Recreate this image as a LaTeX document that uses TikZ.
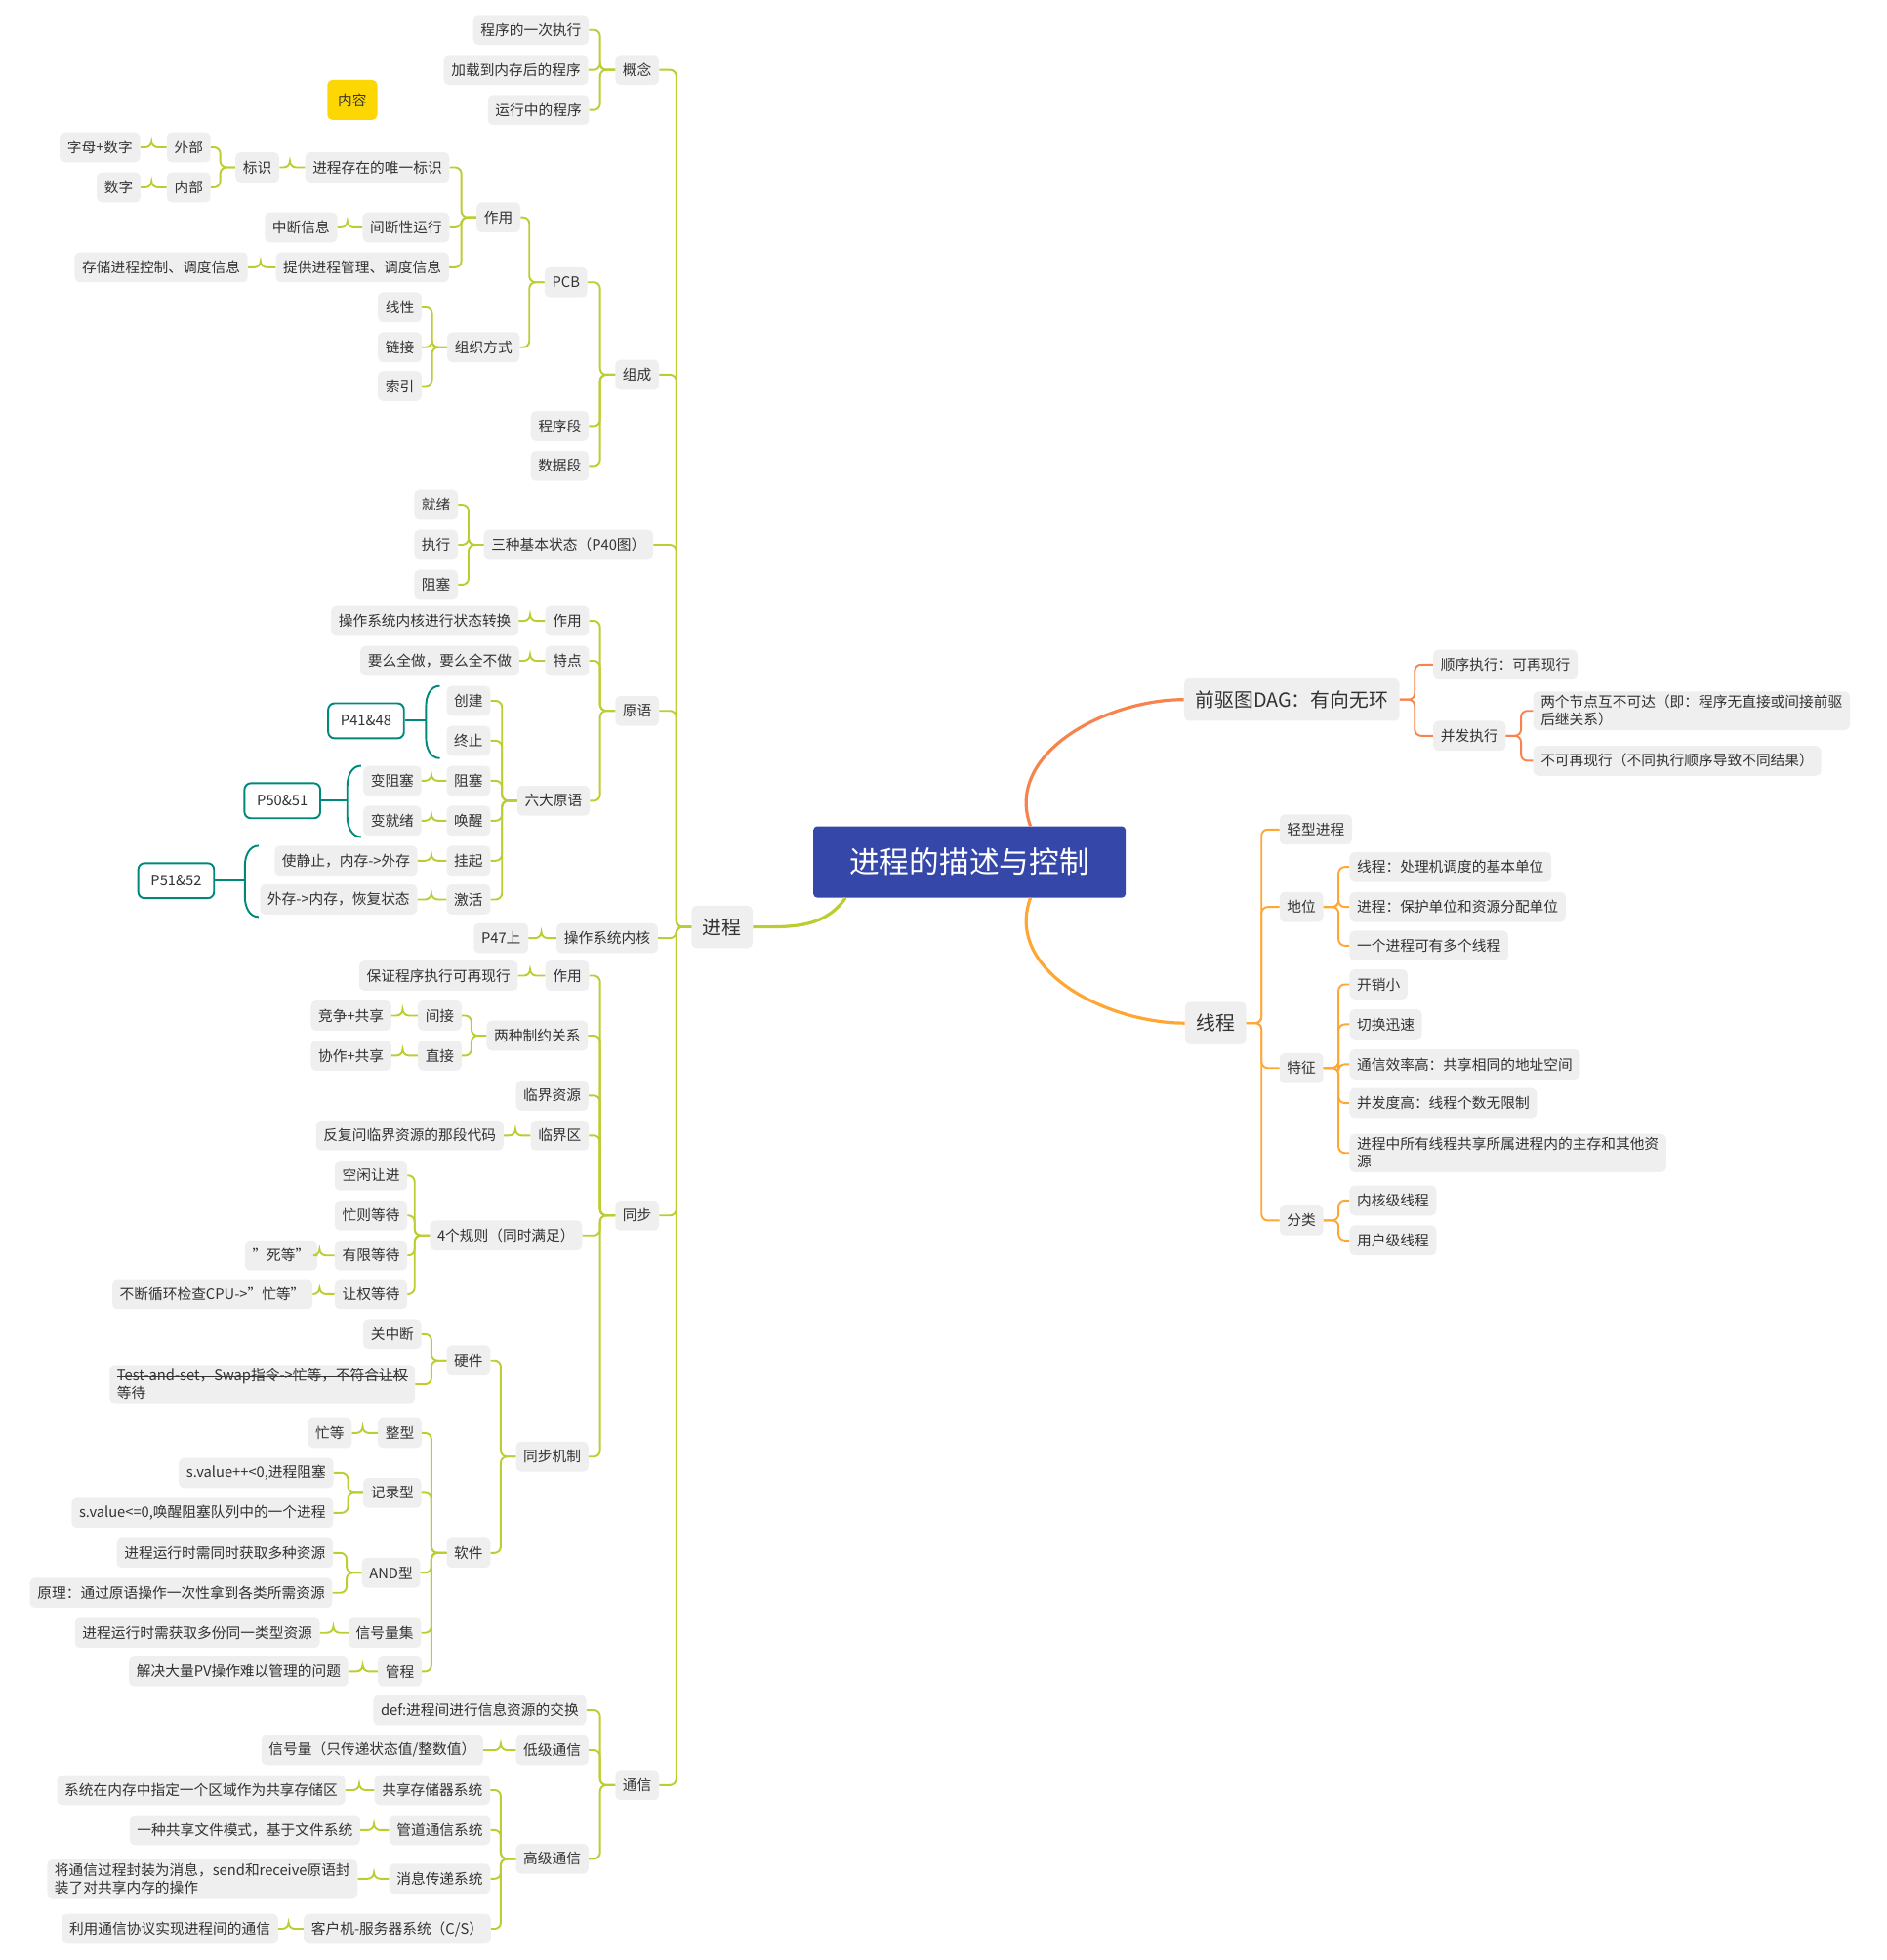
\documentclass[tikz,border=0pt]{standalone}
\usepackage{fontspec}
\setmainfont{Noto Sans CJK SC}
\begin{document}
\definecolor{gline}{HTML}{BCCD32}
\definecolor{oline}{HTML}{F7844F}
\definecolor{yline}{HTML}{FFA734}
\definecolor{nfill}{HTML}{EFEFEF}
\definecolor{ntext}{HTML}{333333}
\definecolor{tealc}{HTML}{00897B}
\definecolor{rootc}{HTML}{3547A8}
\tikzset{
 n/.style={fill=nfill,rounded corners=4,text=ntext,inner xsep=6pt,inner ysep=3pt,minimum height=24pt,font=\fontsize{11.5}{14}\selectfont},
 big/.style={n,font=\fontsize{15.5}{18}\selectfont,minimum height=34pt,inner xsep=9pt},
 gl/.style={draw=gline,line width=1.5pt,rounded corners=5pt},
 ol/.style={draw=oline,line width=1.5pt,rounded corners=5pt},
 yl/.style={draw=yline,line width=1.5pt,rounded corners=5pt},
 tl/.style={draw=tealc,line width=1.5pt},
 cb/.style={draw=tealc,line width=1.5pt,rounded corners=5,fill=white,text=ntext,inner xsep=10pt,minimum height=28pt,font=\fontsize{11.5}{14}\selectfont},
}
\newcommand\N[4]{\node[n] (#1) at (#2,#3) {#4};}
\newcommand\Lk[3][gl]{\draw[#1] (#2.west) -- ++(-12,0) |- (#3.east);}
\newcommand\Rk[3][ol]{\draw[#1] (#2.east) -- ++(12,0) |- (#3.west);}
\begin{tikzpicture}[x=1pt,y=-1pt]
\useasboundingbox (0,0) rectangle (1510,1569);
% root
\node[fill=rootc,text=white,rounded corners=3,minimum width=250pt,minimum height=57pt,font=\fontsize{24}{28}\selectfont] (root) at (776,690) {进程的描述与控制};
\node[fill=yellow!75!orange,rounded corners=4,minimum width=40pt,minimum height=32pt,font=\fontsize{11.5}{14}\selectfont,text=ntext] (nr) at (282,80) {内容};
\node[big] (jc) at (578,742) {进程};
\node[big] (qq) at (1034,560) {前驱图DAG：有向无环};
\node[big] (xc) at (973,819) {线程};
\draw[draw=gline,line width=2.5pt] ([xshift=26]root.south west) to[out=235,in=0] (jc.east);
\draw[draw=oline,line width=2.5pt] ([xshift=174]root.north west) to[out=110,in=180] (qq.west);
\draw[draw=yline,line width=2.5pt] ([xshift=174]root.south west) to[out=-110,in=180] (xc.west);
% 概念
\N{gn}{510}{56}{概念}
\N{gn1}{425}{24}{程序的一次执行}
\N{gn2}{413}{56}{加载到内存后的程序}
\N{gn3}{431}{88}{运行中的程序}
% 组成
\N{zc}{510}{300}{组成}
\N{pcb}{453}{226}{PCB}
\N{cxd}{448}{341}{程序段}
\N{sjd}{448}{373}{数据段}
\N{zy}{399}{174}{作用}
\N{zzfs}{387}{278}{组织方式}
\N{wybs}{302}{134}{进程存在的唯一标识}
\N{jdx}{325}{182}{间断性运行}
\N{tg}{290}{214}{提供进程管理、调度信息}
\N{bs}{206}{134}{标识}
\N{wb}{151}{118}{外部}
\N{nb}{151}{150}{内部}
\N{zm}{80}{118}{字母+数字}
\N{sz}{95}{150}{数字}
\N{zdxx}{241}{182}{中断信息}
\N{cc}{129}{214}{存储进程控制、调度信息}
\N{xx}{320}{246}{线性}
\N{lj}{320}{278}{链接}
\N{sy}{320}{309}{索引}
% 三种状态
\N{sz3}{455}{436}{三种基本状态（P40图）}
\N{jx}{349}{404}{就绪}
\N{zx}{349}{436}{执行}
\N{zs}{349}{468}{阻塞}
% 原语
\N{yy}{510}{569}{原语}
\N{yzy}{454}{497}{作用}
\N{ytd}{454}{529}{特点}
\N{ldy}{443}{641}{六大原语}
\N{yzy1}{340}{497}{操作系统内核进行状态转换}
\N{ytd1}{352}{529}{要么全做，要么全不做}
\N{cj}{375}{561}{创建}
\N{zz}{375}{593}{终止}
\N{zs2}{375}{625}{阻塞}
\N{hx}{375}{657}{唤醒}
\N{gq}{375}{689}{挂起}
\N{jh}{375}{720}{激活}
\N{bzs}{314}{625}{变阻塞}
\N{bjx}{314}{657}{变就绪}
\N{jzz}{277}{689}{使静止，内存->外存}
\N{wc}{271}{720}{外存->内存，恢复状态}
\node[cb] (p1) at (293,577) {P41\&48};
\node[cb] (p2) at (226,641) {P50\&51};
\node[cb] (p3) at (141,705) {P51\&52};
\foreach \b/\x/\t/\m/\e in {p1/341/549/577/607, p2/278/613/641/670, p3/196/677/705/734}{
  \draw[tl] (\x+11,\t) to[out=180,in=90] (\x,\t+16) -- (\x,\e-16) to[out=-90,in=180] (\x+11,\e);
  \draw[tl] (\b.east) -- (\x,\m);
}
% 内核
\N{nh}{486}{751}{操作系统内核}
\N{p47}{401}{751}{P47上}
% 同步
\N{tb}{510}{973}{同步}
\N{tzy}{454}{781}{作用}
\N{zy2}{430}{829}{两种制约关系}
\N{ljzy}{442}{877}{临界资源}
\N{ljq}{448}{909}{临界区}
\N{gz}{405}{989}{4个规则（同时满足）}
\N{tbjz}{442}{1166}{同步机制}
\N{tzy1}{351}{781}{保证程序执行可再现行}
\N{jj}{352}{813}{间接}
\N{zj}{352}{845}{直接}
\N{jzgx}{281}{813}{竞争+共享}
\N{xzgx}{281}{845}{协作+共享}
\N{ljq1}{328}{909}{反复问临界资源的那段代码}
\N{kx}{297}{941}{空闲让进}
\N{mz}{297}{973}{忙则等待}
\N{yx}{297}{1005}{有限等待}
\N{rq}{297}{1036}{让权等待}
\N{sd}{225}{1005}{"死等"}
\N{bd}{170}{1036}{不断循环检查CPU->"忙等"}
\N{yj}{375}{1089}{硬件}
\N{rj}{375}{1243}{软件}
\N{gzd}{314}{1068}{关中断}
\node[n,align=left] (tas) at (210,1108) {Test-and-set，Swap指令->忙等，不符合让权\\等待};
\draw[ntext,line width=0.8pt] ([xshift=6pt,yshift=6pt]tas.west) -- ([xshift=-6pt,yshift=6pt]tas.east);
\N{zx2}{320}{1147}{整型}
\N{jlx}{314}{1195}{记录型}
\N{andx}{313}{1259}{AND型}
\N{xhlj}{308}{1307}{信号量集}
\N{gc}{320}{1338}{管程}
\N{md}{264}{1147}{忙等}
\N{sv1}{205}{1179}{s.value++<0,进程阻塞}
\N{sv2}{162}{1211}{s.value<=0,唤醒阻塞队列中的一个进程}
\N{and1}{180}{1243}{进程运行时需同时获取多种资源}
\N{and2}{145}{1275}{原理：通过原语操作一次性拿到各类所需资源}
\N{xh1}{158}{1307}{进程运行时需获取多份同一类型资源}
\N{gc1}{191}{1338}{解决大量PV操作难以管理的问题}
% 通信
\N{tx}{510}{1429}{通信}
\N{def}{384}{1369}{def:进程间进行信息资源的交换}
\N{dj}{442}{1401}{低级通信}
\N{gj}{442}{1488}{高级通信}
\N{dj1}{298}{1401}{信号量（只传递状态值/整数值）}
\N{gx}{346}{1433}{共享存储器系统}
\N{gd}{352}{1465}{管道通信系统}
\N{xxcd}{352}{1504}{消息传递系统}
\N{khj}{318}{1544}{客户机-服务器系统（C/S）}
\N{gx1}{161}{1433}{系统在内存中指定一个区域作为共享存储区}
\N{gd1}{196}{1465}{一种共享文件模式，基于文件系统}
\node[n,align=left] (xx1) at (162,1504) {将通信过程封装为消息，send和receive原语封\\装了对共享内存的操作};
\N{khj1}{136}{1544}{利用通信协议实现进程间的通信}
% left links
\foreach \c in {gn,zc,sz3,yy,nh,tb,tx}{\Lk{jc}{\c}}
\foreach \c in {gn1,gn2,gn3}{\Lk{gn}{\c}}
\foreach \c in {pcb,cxd,sjd}{\Lk{zc}{\c}}
\foreach \c in {zy,zzfs}{\Lk{pcb}{\c}}
\foreach \c in {wybs,jdx,tg}{\Lk{zy}{\c}}
\Lk{wybs}{bs}\Lk{bs}{wb}\Lk{bs}{nb}\Lk{wb}{zm}\Lk{nb}{sz}\Lk{jdx}{zdxx}\Lk{tg}{cc}
\foreach \c in {xx,lj,sy}{\Lk{zzfs}{\c}}
\foreach \c in {jx,zx,zs}{\Lk{sz3}{\c}}
\foreach \c in {yzy,ytd,ldy}{\Lk{yy}{\c}}
\Lk{yzy}{yzy1}\Lk{ytd}{ytd1}
\foreach \c in {cj,zz,zs2,hx,gq,jh}{\Lk{ldy}{\c}}
\Lk{zs2}{bzs}\Lk{hx}{bjx}\Lk{gq}{jzz}\Lk{jh}{wc}
\Lk{nh}{p47}
\foreach \c in {tzy,zy2,ljzy,ljq,gz,tbjz}{\Lk{tb}{\c}}
\Lk{tzy}{tzy1}\Lk{zy2}{jj}\Lk{zy2}{zj}\Lk{jj}{jzgx}\Lk{zj}{xzgx}\Lk{ljq}{ljq1}
\foreach \c in {kx,mz,yx,rq}{\Lk{gz}{\c}}
\Lk{yx}{sd}\Lk{rq}{bd}
\Lk{tbjz}{yj}\Lk{tbjz}{rj}\Lk{yj}{gzd}\Lk{yj}{tas}
\foreach \c in {zx2,jlx,andx,xhlj,gc}{\Lk{rj}{\c}}
\Lk{zx2}{md}\Lk{jlx}{sv1}\Lk{jlx}{sv2}\Lk{andx}{and1}\Lk{andx}{and2}\Lk{xhlj}{xh1}\Lk{gc}{gc1}
\foreach \c in {def,dj,gj}{\Lk{tx}{\c}}
\Lk{dj}{dj1}
\foreach \c in {gx,gd,xxcd,khj}{\Lk{gj}{\c}}
\Lk{gx}{gx1}\Lk{gd}{gd1}\Lk{xxcd}{xx1}\Lk{khj}{khj1}
% right: 前驱图
\node[n,anchor=west] (sx) at (1147,532) {顺序执行：可再现行};
\node[n,anchor=west] (bf) at (1147,589) {并发执行};
\node[n,anchor=west,align=left] (bf1) at (1227,569) {两个节点互不可达（即：程序无直接或间接前驱\\后继关系）};
\node[n,anchor=west] (bf2) at (1227,609) {不可再现行（不同执行顺序导致不同结果）};
\Rk{qq}{sx}\Rk{qq}{bf}\Rk{bf}{bf1}\Rk{bf}{bf2}
% right: 线程
\node[n,anchor=west] (qx) at (1024,664) {轻型进程};
\node[n,anchor=west] (dw) at (1024,726) {地位};
\node[n,anchor=west] (tz) at (1024,855) {特征};
\node[n,anchor=west] (fl) at (1024,977) {分类};
\node[n,anchor=west] (dw1) at (1080,694) {线程：处理机调度的基本单位};
\node[n,anchor=west] (dw2) at (1080,726) {进程：保护单位和资源分配单位};
\node[n,anchor=west] (dw3) at (1080,757) {一个进程可有多个线程};
\node[n,anchor=west] (tz1) at (1080,788) {开销小};
\node[n,anchor=west] (tz2) at (1080,820) {切换迅速};
\node[n,anchor=west] (tz3) at (1080,852) {通信效率高：共享相同的地址空间};
\node[n,anchor=west] (tz4) at (1080,883) {并发度高：线程个数无限制};
\node[n,anchor=west,align=left] (tz5) at (1080,923) {进程中所有线程共享所属进程内的主存和其他资\\源};
\node[n,anchor=west] (fl1) at (1080,961) {内核级线程};
\node[n,anchor=west] (fl2) at (1080,993) {用户级线程};
\foreach \c in {qx,dw,tz,fl}{\Rk[yl]{xc}{\c}}
\foreach \c in {dw1,dw2,dw3}{\Rk[yl]{dw}{\c}}
\foreach \c in {tz1,tz2,tz3,tz4,tz5}{\Rk[yl]{tz}{\c}}
\foreach \c in {fl1,fl2}{\Rk[yl]{fl}{\c}}
\end{tikzpicture}
\end{document}
